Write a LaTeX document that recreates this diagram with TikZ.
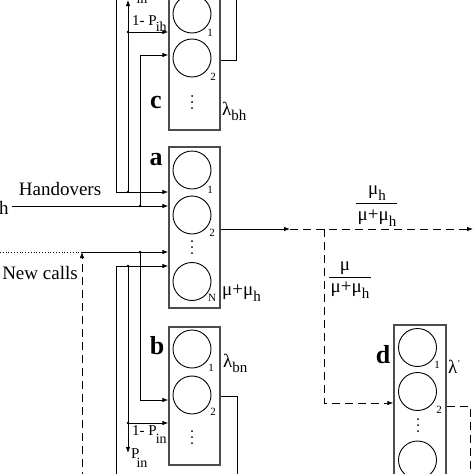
\documentclass[tikz,border=0pt]{standalone}
\usepackage{fontspec}
\setmainfont{Liberation Serif}
\usetikzlibrary{arrows.meta}
\newcommand\sbs[2][6pt]{\raisebox{-#1}{\fontsize{15}{15}\selectfont #2}}
\newcommand\ssbs[2][6pt]{\raisebox{-#1}{\fontsize{14}{14}\selectfont #2}}
\begin{document}
\begin{tikzpicture}[x=1pt,y=-1pt,
 txt/.style={font=\fontsize{19}{19}\selectfont, inner sep=0pt},
 stxt/.style={font=\fontsize{15}{15}\selectfont, inner sep=0pt},
 boxst/.style={draw=black!70, line width=1.3pt, inner sep=0pt, minimum width=51pt},
 circ/.style={draw, circle, minimum size=38pt, inner sep=0pt, line width=0.9pt},
 numst/.style={font=\fontsize{11}{11}\selectfont, inner sep=0pt},
 big/.style={font=\fontsize{26}{26}\selectfont\bfseries, inner sep=0pt},
 ln/.style={line width=0.8pt},
 arr/.style={ln, -{Latex[length=6pt,width=4.5pt]}},
 dsh/.style={dash pattern=on 8pt off 5pt},
 jn/.style={circle, fill, inner sep=0pt, minimum size=2.6pt},
]
\useasboundingbox (0,0) rectangle (474,474);
% boxes
\node[boxst, minimum height=160pt] (c) at (194.5,50) {};
\node[boxst, minimum height=161pt] (a) at (194.5,227.5) {};
\node[boxst, minimum height=138pt] (b) at (194.5,396) {};
\node[boxst, minimum width=52pt, minimum height=175pt] (d) at (420,412.5) {};
% circles
\node[circ] (c1) at (192,14) {};
\node[circ] (c2) at (192,58) {};
\node[circ] (a1) at (192,170) {};
\node[circ] (a2) at (192,215) {};
\node[circ] (aN) at (192,281.5) {};
\node[circ] (b1) at (192,349) {};
\node[circ] (b2) at (192,395) {};
\node[circ] (d1) at (417.5,347.5) {};
\node[circ] (d2) at (417.5,391.5) {};
\node[circ] (d3) at (417.5,460) {};
% small numbers
\node[numst] (nc1) at (210,33) {1};
\node[numst] (nc2) at (213,77) {2};
\node[numst] (na1) at (210,190) {1};
\node[numst] (na2) at (212,233) {2};
\node[numst] (naN) at (212,298) {N};
\node[numst] (nb1) at (211,368) {1};
\node[numst] (nb2) at (213,412) {2};
\node[numst] (nd1) at (437,365) {1};
\node[numst] (nd2) at (439,410) {2};
% vertical dots
\foreach \x/\y in {192/102, 192/247, 192/437, 418/425}
  \foreach \k in {-6,0,6} \fill (\x,\y+\k) circle (1pt);
% letters
\node[big] (la) at (156,160) {a};
\node[big] (lb) at (157,346) {b};
\node[big] (lc) at (156,102) {c};
\node[big] (ld) at (383,355) {d};
% rates
\node[txt, anchor=base west] (lbh) at (222,115) {λ\sbs[5pt]{bh}};
\node[txt, anchor=base west] (lbn) at (223,367) {λ\sbs[5pt]{bn}};
\node[txt, anchor=base west] (lp) at (448,373) {λ\raisebox{7pt}{\fontsize{9}{9}\selectfont ’}};
\node[txt, anchor=base west] (mua) at (222,295) {μ+μ\sbs{h}};
% fractions
\node[txt, anchor=base] (f1n) at (377,194) {μ\sbs{h}};
\node[txt, anchor=base] (f1d) at (377,220) {μ+μ\sbs{h}};
\draw[line width=0.8pt] (356,203) -- (397,203);
\node[txt, anchor=base] (f2n) at (345,270) {μ};
\node[txt, anchor=base] (f2d) at (350,292) {μ+μ\sbs{h}};
\draw[line width=0.8pt] (329,277) -- (371,277);
% left texts
\node[txt] (ho) at (60,189) {Handovers};
\node[txt] (nc) at (40,273) {New calls};
\node[txt, anchor=base west] (hh) at (-1,214) {h};
\node[stxt, anchor=base west] (pih1) at (132,25) {1- P\kern-1pt\ssbs[6pt]{ih}};
\node[stxt, anchor=base west] (pin1) at (132,435) {1- P\kern-1pt\ssbs[8pt]{in}};
\node[stxt, anchor=base west] (pin) at (131,458) {P\kern-3pt\ssbs[9pt]{in}};
\node[stxt, anchor=base west] (pih) at (131,-6) {P\kern-3pt\ssbs[9pt]{ih}};
% junctions
\coordinate (j1) at (128,192);
\coordinate (j2) at (140,206);
\coordinate (j3) at (140,252);
\coordinate (j4) at (128,266);
\coordinate (j5) at (128,32);
\coordinate (j6) at (128,423);
\coordinate (j7) at (82,252);
\coordinate (j8) at (324,229);
\coordinate (oa) at (290,229);
\foreach \j in {j1,j2,j3,j4,j5,j6} \node[jn] at (\j) {};
% top connectors
\draw[arr] (116,-5) |- (a.west |- j1);
\draw[arr] (j1) -- (128,0);
\draw[arr] (j5) -- (c.west |- j5);
\draw[arr] (j2) |- (c.west |- 0,55);
\draw[arr] (12,206) -- (a.west |- j2);
% bottom connectors
\draw[ln, dotted] (0,252) -- (j7);
\draw[arr] (j7) -- (a.west |- j7);
\draw[ln, dsh, -{Latex[length=6pt,width=4.5pt]}] (82,480) -- (j7);
\draw[arr] (116,480) |- (a.west |- j4);
\draw[arr] (j4) -- (128,453);
\draw[arr] (j6) -- (b.west |- j6);
\draw[arr] (j3) |- (b.west |- 0,400);
% feedbacks
\draw[ln] (c.east |- 0,60) -| (236,-5);
\draw[ln] (b.east |- 0,396) -| (237,480);
\draw[ln, dsh] (d.east |- 0,406) -| (470,480);
% output
\draw[arr] (a.east |- oa) -- (oa);
\draw[ln, dsh, -{Latex[length=6pt,width=4.5pt]}] (oa) -- (473,229);
\draw[ln, dsh, -{Latex[length=6pt,width=4.5pt]}] (j8) |- (d.west |- 0,403);
\end{tikzpicture}
\end{document}
